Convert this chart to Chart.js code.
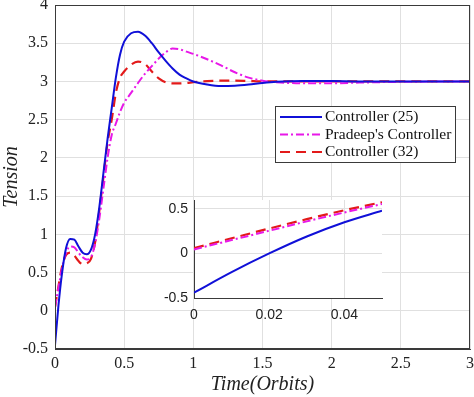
<!DOCTYPE html>
<html>
<head>
<meta charset="utf-8">
<script src="https://cdn.jsdelivr.net/npm/chart.js@4.4.1/dist/chart.umd.min.js"></script>
<style>
  body { margin: 0; background: #fff; }
  #wrap { position: relative; width: 474px; height: 397px; }
  #inset { position: absolute; left: 150px; top: 195px; }
</style>
</head>
<body>
<div id="wrap">
  <canvas id="main" width="474" height="397"></canvas>
  <canvas id="inset" width="240" height="130"></canvas>
</div>
<script>
// time axis (orbits) and tension for each controller
const time = [0, 0.025, 0.05, 0.08, 0.11, 0.14, 0.17, 0.2, 0.23, 0.26, 0.29, 0.32, 0.35, 0.38, 0.41, 0.44, 0.47, 0.5,
  0.55, 0.6, 0.65, 0.7, 0.75, 0.8, 0.85, 0.9, 0.95, 1.0, 1.1, 1.2, 1.3, 1.4, 1.5, 1.6, 1.8, 2.0, 2.2, 2.5, 3.0];
const ctrl25 = [-0.45, 0.07, 0.48, 0.82, 0.94, 0.93, 0.84, 0.76, 0.74, 0.80, 1.0, 1.35, 1.8, 2.25, 2.65, 3.05, 3.35, 3.52,
  3.63, 3.65, 3.6, 3.5, 3.38, 3.27, 3.17, 3.09, 3.04, 3.0, 2.96, 2.94, 2.945, 2.96, 2.98, 2.995, 3.005, 3.005, 3.0, 3.0, 3.0];
const pradeep = [0.05, 0.30, 0.55, 0.76, 0.84, 0.83, 0.76, 0.70, 0.67, 0.70, 0.88, 1.2, 1.6, 2.0, 2.3, 2.45, 2.6, 2.72,
  2.85, 2.98, 3.1, 3.2, 3.3, 3.38, 3.43, 3.42, 3.39, 3.36, 3.29, 3.21, 3.12, 3.05, 3.01, 2.99, 2.975, 2.975, 2.985, 2.995, 3.0];
const ctrl32 = [0.05, 0.32, 0.57, 0.73, 0.76, 0.72, 0.65, 0.61, 0.62, 0.68, 0.9, 1.3, 1.75, 2.2, 2.5, 2.85, 3.05, 3.13,
  3.22, 3.26, 3.23, 3.13, 3.04, 2.99, 2.975, 2.975, 2.98, 2.99, 3.005, 3.01, 3.01, 3.005, 3.0, 3.0, 3.0, 3.0, 3.0, 3.0, 3.0];

// zoomed inset, first 0.05 orbits
const insetTime = [0, 0.01, 0.02, 0.03, 0.04, 0.05];
const insetCtrl25 = [-0.44, -0.21, 0.0, 0.19, 0.35, 0.48];
const insetPradeep = [0.045, 0.15, 0.255, 0.36, 0.46, 0.555];
const insetCtrl32 = [0.06, 0.17, 0.28, 0.385, 0.485, 0.575];

const xTicks = [0, 0.5, 1, 1.5, 2, 2.5, 3];

const names = ['Controller (25)', "Pradeep's Controller", 'Controller (32)'];
const colors = ['#1010d8', '#e818e8', '#e31a1a'];
const dashes = [[], [8, 3, 2, 3], [10, 6]];
const widths = [2, 2, 2.2];

const serif = 'Liberation Serif';
const gridColor = '#e0e0e0';
const axisColor = '#3a3a3a';

function pts(xs, ys) {
  return xs.map((x, i) => ({ x: x, y: ys[i] }));
}

function makeSets(xs, series) {
  return series.map((ys, i) => ({
    label: names[i],
    data: pts(xs, ys),
    borderColor: colors[i],
    borderWidth: widths[i],
    borderDash: dashes[i],
    pointRadius: 0,
    fill: false,
    cubicInterpolationMode: 'monotone'
  }));
}

const boxPlugin = {
  id: 'box',
  afterDatasetsDraw(chart) {
    const a = chart.chartArea, ctx = chart.ctx;
    ctx.save();
    ctx.strokeStyle = axisColor;
    ctx.lineWidth = 1;
    ctx.strokeRect(a.left + 0.5, a.top + 0.5, a.right - a.left - 1, a.bottom - a.top - 1);
    ctx.restore();
  }
};

const legendPlugin = {
  id: 'boxLegend',
  afterDraw(chart) {
    const ctx = chart.ctx;
    const x0 = 275, y0 = 106, w = 180, h = 56;
    ctx.save();
    ctx.fillStyle = '#fff';
    ctx.fillRect(x0, y0, w, h);
    ctx.strokeStyle = axisColor;
    ctx.lineWidth = 1;
    ctx.strokeRect(x0 + 0.5, y0 + 0.5, w, h);
    ctx.font = '15.5px "' + serif + '"';
    ctx.textBaseline = 'middle';
    chart.data.datasets.forEach((ds, i) => {
      const y = y0 + 11 + i * 17.5;
      ctx.strokeStyle = ds.borderColor;
      ctx.lineWidth = ds.borderWidth;
      ctx.setLineDash(ds.borderDash);
      ctx.beginPath();
      ctx.moveTo(x0 + 5, y);
      ctx.lineTo(x0 + 47, y);
      ctx.stroke();
      ctx.setLineDash([]);
      ctx.fillStyle = '#111';
      ctx.fillText(ds.label, x0 + 50, y);
    });
    ctx.restore();
  }
};

new Chart(document.getElementById('main'), {
  type: 'line',
  data: { datasets: makeSets(time, [ctrl25, pradeep, ctrl32]) },
  options: {
    responsive: false,
    animation: false,
    devicePixelRatio: 1,
    layout: { padding: { top: 5, right: 4, left: 0, bottom: 0 } },
    plugins: { legend: { display: false }, tooltip: { enabled: false } },
    scales: {
      x: {
        type: 'linear', min: 0, max: 3,
        afterBuildTicks(s) { s.ticks = xTicks.map(v => ({ value: v })); },
        afterFit(s) { s.height = 48; s.paddingLeft = 0; s.paddingRight = 0; },
        grid: { color: gridColor, drawTicks: false },
        border: { color: axisColor },
        ticks: { padding: 5, color: '#222', font: { family: serif, size: 16 }, callback: v => String(v) },
        title: { display: true, text: 'Time(Orbits)', color: '#222', padding: 0,
          font: { family: serif, size: 20, style: 'italic' } }
      },
      y: {
        min: -0.5, max: 4,
        afterFit(s) { s.width = 55; s.paddingTop = 0; s.paddingBottom = 0; },
        grid: { color: gridColor, drawTicks: false },
        border: { color: axisColor },
        ticks: { stepSize: 0.5, padding: 7, color: '#222', font: { family: serif, size: 16 }, callback: v => String(v) },
        title: { display: true, text: 'Tension', color: '#222', padding: 0,
          font: { family: serif, size: 20, style: 'italic' } }
      }
    }
  },
  plugins: [boxPlugin, legendPlugin]
});

const whitePlot = {
  id: 'whitePlot',
  beforeDraw(chart) {
    const a = chart.chartArea, ctx = chart.ctx;
    ctx.save();
    ctx.fillStyle = '#fff';
    ctx.fillRect(a.left, a.top, a.right - a.left, a.bottom - a.top);
    ctx.restore();
  }
};

new Chart(document.getElementById('inset'), {
  type: 'line',
  data: { datasets: makeSets(insetTime, [insetCtrl25, insetPradeep, insetCtrl32]) },
  options: {
    responsive: false,
    animation: false,
    devicePixelRatio: 1,
    layout: { padding: { top: 5, right: 8, left: 0, bottom: 0 } },
    plugins: { legend: { display: false }, tooltip: { enabled: false } },
    scales: {
      x: {
        type: 'linear', min: 0, max: 0.05,
        afterFit(s) { s.height = 27; s.paddingLeft = 0; s.paddingRight = 0; },
        grid: { color: gridColor, drawTicks: false },
        border: { color: axisColor },
        ticks: { stepSize: 0.02, includeBounds: false, padding: 9, color: '#222',
          font: { family: 'Liberation Sans', size: 14 }, callback: v => String(v) }
      },
      y: {
        min: -0.5, max: 0.6,
        afterFit(s) { s.width = 44; s.paddingTop = 0; s.paddingBottom = 0; },
        grid: { color: gridColor, drawTicks: false },
        border: { color: axisColor },
        ticks: { stepSize: 0.5, includeBounds: false, padding: 6, color: '#222',
          font: { family: 'Liberation Sans', size: 14 }, callback: v => String(v) }
      }
    }
  },
  plugins: [whitePlot]
});
</script>
</body>
</html>
